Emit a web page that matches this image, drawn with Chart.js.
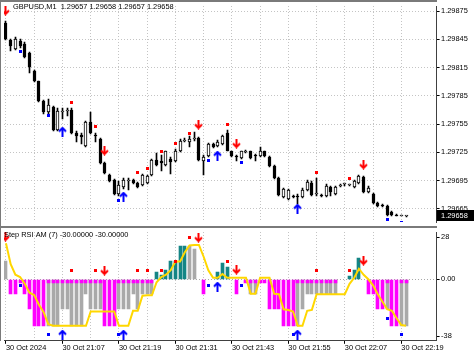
<!DOCTYPE html>
<html>
<head>
<meta charset="utf-8">
<title>GBPUSD,M1 - Step RSI AM</title>
<script src="https://cdn.jsdelivr.net/npm/chart.js@4.4.1/dist/chart.umd.min.js"></script>
<style>
  body { margin: 0; background: #fff; }
  #wrap { position: relative; width: 474px; height: 355px; overflow: hidden; background: #fff; }
  canvas { position: absolute; left: 0; }
  .edge { position: absolute; background: #7a7a7a; }
</style>
</head>
<body>
<div id="wrap">
  <canvas id="price-graphic" width="474" height="224" style="top:2px;width:474px;height:224px"></canvas>
  <canvas id="rsi-graphic" width="474" height="127" style="top:228px;width:474px;height:127px"></canvas>
  <div class="edge" style="left:0;top:0;width:437px;height:2px"></div>
  <div class="edge" style="left:0;top:226px;width:437px;height:2px"></div>
  <div class="edge" style="left:0;top:0;width:1px;height:341px"></div>
</div>
<script>
// minute bars, 30 Oct 2024
const times = ('20:55 20:56 20:57 20:58 20:59 21:00 21:01 21:02 21:03 21:04 21:05 21:06 ' +
  '21:07 21:08 21:09 21:10 21:11 21:12 21:13 21:14 21:15 21:16 21:17 21:18 ' +
  '21:19 21:20 21:21 21:22 21:23 21:24 21:25 21:26 21:27 21:28 21:29 21:30 ' +
  '21:31 21:32 21:33 21:34 21:35 21:36 21:37 21:38 21:39 21:40 21:41 21:42 ' +
  '21:43 21:44 21:45 21:46 21:47 21:48 21:49 21:50 21:51 21:52 21:53 21:54 ' +
  '21:55 21:56 21:57 21:58 21:59 22:00 22:01 22:02 22:03 22:04 22:05 22:06 ' +
  '22:07 22:08 22:09 22:10 22:11 22:12 22:13 22:14 22:15 22:16 22:17 22:18 22:19 22:20').split(' ');

const opens = [
  1.29862, 1.29844, 1.29835, 1.29843, 1.29840, 1.29831, 1.29811, 1.29801, 1.29780, 1.29768,
  1.29773, 1.29749, 1.29768, 1.29769, 1.29770, 1.29746, 1.29744, 1.29732, 1.29757, 1.29744,
  1.29739, 1.29714, 1.29701, 1.29696, 1.29681, 1.29688, 1.29695, 1.29696, 1.29693, 1.29690,
  1.29693, 1.29701, 1.29717, 1.29716, 1.29712, 1.29718, 1.29716, 1.29726, 1.29737, 1.29736,
  1.29739, 1.29740, 1.29716, 1.29721, 1.29734, 1.29732, 1.29734, 1.29746, 1.29726, 1.29721,
  1.29719, 1.29725, 1.29726, 1.29722, 1.29721, 1.29726, 1.29720, 1.29711, 1.29698, 1.29678,
  1.29676, 1.29679, 1.29679, 1.29678, 1.29685, 1.29693, 1.29681, 1.29680, 1.29679, 1.29688,
  1.29681, 1.29689, 1.29691, 1.29690, 1.29688, 1.29693, 1.29699, 1.29683, 1.29681, 1.29671,
  1.29669, 1.29668, 1.29662, 1.29659, 1.29658, 1.29657
];
const highs = [
  1.29864, 1.29845, 1.29847, 1.29845, 1.29842, 1.29832, 1.29812, 1.29801, 1.29781, 1.29782,
  1.29774, 1.29772, 1.29772, 1.29772, 1.29772, 1.29748, 1.29746, 1.29758, 1.29768, 1.29746,
  1.29740, 1.29715, 1.29702, 1.29697, 1.29695, 1.29698, 1.29698, 1.29697, 1.29694, 1.29702,
  1.29701, 1.29718, 1.29724, 1.29722, 1.29727, 1.29720, 1.29729, 1.29739, 1.29740, 1.29742,
  1.29747, 1.29741, 1.29722, 1.29735, 1.29735, 1.29738, 1.29744, 1.29749, 1.29727, 1.29722,
  1.29727, 1.29728, 1.29727, 1.29723, 1.29731, 1.29727, 1.29721, 1.29712, 1.29699, 1.29687,
  1.29686, 1.29680, 1.29681, 1.29687, 1.29696, 1.29695, 1.29698, 1.29681, 1.29691, 1.29689,
  1.29689, 1.29692, 1.29693, 1.29692, 1.29696, 1.29701, 1.29700, 1.29689, 1.29682, 1.29672,
  1.29670, 1.29669, 1.29663, 1.29660, 1.29659, 1.29658
];
const lows = [
  1.29844, 1.29833, 1.29834, 1.29836, 1.29825, 1.29809, 1.29800, 1.29779, 1.29766, 1.29765,
  1.29748, 1.29748, 1.29761, 1.29764, 1.29745, 1.29736, 1.29734, 1.29731, 1.29745, 1.29736,
  1.29713, 1.29702, 1.29694, 1.29680, 1.29679, 1.29686, 1.29685, 1.29692, 1.29687, 1.29689,
  1.29692, 1.29700, 1.29711, 1.29705, 1.29711, 1.29702, 1.29715, 1.29725, 1.29736, 1.29731,
  1.29737, 1.29716, 1.29701, 1.29720, 1.29730, 1.29731, 1.29733, 1.29726, 1.29720, 1.29716,
  1.29718, 1.29724, 1.29718, 1.29716, 1.29720, 1.29720, 1.29710, 1.29697, 1.29679, 1.29677,
  1.29675, 1.29677, 1.29670, 1.29677, 1.29684, 1.29679, 1.29679, 1.29678, 1.29678, 1.29679,
  1.29680, 1.29688, 1.29689, 1.29689, 1.29687, 1.29692, 1.29682, 1.29682, 1.29670, 1.29667,
  1.29667, 1.29658, 1.29658, 1.29658, 1.29657, 1.29657
];
const closes = [
  1.29845, 1.29838, 1.29845, 1.29838, 1.29826, 1.29816, 1.29801, 1.29780, 1.29768, 1.29775,
  1.29749, 1.29769, 1.29769, 1.29770, 1.29746, 1.29742, 1.29741, 1.29757, 1.29746, 1.29742,
  1.29714, 1.29703, 1.29695, 1.29681, 1.29690, 1.29696, 1.29696, 1.29693, 1.29688, 1.29701,
  1.29700, 1.29717, 1.29712, 1.29714, 1.29726, 1.29715, 1.29727, 1.29737, 1.29738, 1.29739,
  1.29740, 1.29717, 1.29720, 1.29734, 1.29731, 1.29736, 1.29742, 1.29727, 1.29721, 1.29720,
  1.29726, 1.29727, 1.29719, 1.29721, 1.29726, 1.29721, 1.29711, 1.29698, 1.29680, 1.29686,
  1.29685, 1.29678, 1.29678, 1.29685, 1.29694, 1.29680, 1.29682, 1.29679, 1.29689, 1.29683,
  1.29688, 1.29690, 1.29691, 1.29691, 1.29695, 1.29700, 1.29683, 1.29687, 1.29671, 1.29668,
  1.29668, 1.29659, 1.29659, 1.29658, 1.29658, 1.29658
];

// signal marks on the price window (bar index + price)
const priceRedSquareBars = [14, 19, 28, 30, 33, 36, 39, 47, 66, 73];
const priceRedSquares = [1.29778, 1.29752, 1.29704, 1.29708, 1.29726, 1.29735, 1.29745, 1.29755, 1.29704, 1.29697];
const priceRedArrowBars = [0, 21, 41, 49, 76];
const priceRedArrows = [1.29876, 1.29727, 1.29755, 1.29734, 1.29712];
const priceBlueSquareBars = [3, 9, 24, 43, 50, 81, 84];
const priceBlueSquares = [1.29832, 1.29764, 1.29674, 1.29716, 1.29714, 1.29654, 1.29651];
const priceBlueArrowBars = [12, 25, 45, 62];
const priceBlueArrows = [1.29747, 1.29678, 1.29722, 1.29665];

// Step RSI AM (7)
const rsiLine = [
  24, 10, 3, 1.5, -3, -9, -10.5, -17, -22, -30,
  -31, -31, -31, -31, -31, -31, -31, -31, -21.5, -21.5,
  -21.5, -21.5, -21.5, -21.5, -31, -31, -31, -21, -21, -11,
  -10.7, -10.7, -2, 1.5, 3, 6, 11.8, 11.8, 18, 22.5,
  22.9, 22.9, 15, 6, 1, 1, 3.5, 1, 1, 1,
  1, 1, -9.7, -9.7, 1, 1, 1, -9.7, -10, -20,
  -20.5, -21.5, -31, -31, -21, -20.4, -10, -10, -10, -10,
  -10, -10, -10, -3, 1, 7, 3, 0, -4, -10,
  -15, -20, -21, -26, -30.5, -31
];
const grayHist = [
  12, null, null, null, null, null, null, null, null, -31,
  -31, -31, -20, -20, -31, -31, -31, -10, -20, -20,
  -20, null, null, null, -20, -20, -20, -10, -20, -10,
  -10, -10, null, null, null, null, null, null, null, 22,
  20, null, null, null, null, null, null, null, null, null,
  null, null, -10, -10, null, null, null, null, null, null,
  null, null, -31, -20, -10, -10, -10, -10, -10, -10,
  -10, null, null, null, null, null, null, null, null, null,
  null, -20, null, null, -31, -31
];
const magentaHist = [
  null, -10, -10, -2.5, -10, -20, -31, -31, -31, -2.5,
  -2.5, -2.5, -2.5, -2.5, -2.5, -2.5, -2.5, -2.5, -2.5, -2.5,
  -2.5, -31, -31, -31, -2.5, -2.5, -2.5, -2.5, -2.5, -2.5,
  -2.5, -2.5, null, null, null, null, null, null, null, null,
  null, null, -10, null, null, null, null, null, null, -10,
  null, -2.5, -2.5, -2.5, -2.5, -2.5, -20, -20, -20, -31,
  -31, -31, -2.5, -2.5, -2.5, -2.5, -2.5, -2.5, -2.5, -2.5,
  -2.5, null, null, null, null, null, null, -10, -10, -20,
  -20, -2.5, -31, -31, -2.5, -2.5
];
const tealHist = [
  null, null, null, null, null, null, null, null, null, null,
  null, null, null, null, null, null, null, null, null, null,
  null, null, null, null, null, null, null, null, null, null,
  null, null, 5, 3, 6, 12, 12, 22, 22, null,
  null, null, null, null, null, 5, 11, 8, null, null,
  null, null, null, null, null, null, null, null, null, null,
  null, null, null, null, null, null, null, null, null, null,
  null, null, null, 2, 6, 14, null, null, null, null,
  null, null, null, null, null, null
];
const rsiRedSquareBars = [14, 19, 28, 30, 33, 36, 39, 47, 66, 73];
const rsiRedSquares = [6, 6, 6, 6, 6, 12, 28, 12, 6, 6];
const rsiRedArrowBars = [0, 21, 41, 49, 76];
const rsiRedArrows = [28.5, 6, 28, 6.5, 12.5];
const rsiBlueSquareBars = [3, 9, 24, 43, 50, 61, 81, 84];
const rsiBlueSquares = [-4, -37, -37, -4, -4, -37, -26, -37];
const rsiBlueArrowBars = [12, 25, 45, 62];
const rsiBlueArrows = [-37, -37, -5, -37];

// axes
const priceTicks = [1.29665, 1.29695, 1.29725, 1.29755, 1.29785, 1.29815, 1.29845, 1.29875];
const rsiTicks = [28, 0, -38];
const gridTimes = ['20:55', '21:01', '21:07', '21:13', '21:19', '21:25', '21:31', '21:37',
  '21:43', '21:49', '21:55', '22:01', '22:07', '22:13', '22:19'];
const timeTicks = ['20:55', '21:07', '21:19', '21:31', '21:43', '21:55', '22:07', '22:19'];
const timeTickText = ['30 Oct 2024', '30 Oct 21:07', '30 Oct 21:19', '30 Oct 21:31',
  '30 Oct 21:43', '30 Oct 21:55', '30 Oct 22:07', '30 Oct 22:19'];

Chart.defaults.font.family = '"Liberation Sans", Arial, sans-serif';
Chart.defaults.font.size = 7.4;
Chart.defaults.color = '#000';

const FONT = '7.4px "Liberation Sans", Arial, sans-serif';
const GRID = '#c4c4c4';
const X_MIN = -0.42, X_MAX = 91.5;   // empty space on the right = chart shift

function Serie(values) {
  return values.map((v, i) => ({ x: i, y: v }));
}

function Marcas(bars, values) {
  return bars.map((b, k) => ({ x: b, y: values[k] }));
}

function Seta(color, down) {
  const c = document.createElement('canvas');
  c.width = 9; c.height = 10;
  const g = c.getContext('2d');
  g.strokeStyle = color;
  g.lineWidth = 2;
  g.beginPath();
  if (down) {
    g.moveTo(4.5, 0); g.lineTo(4.5, 8.5);
    g.moveTo(1, 5); g.lineTo(4.5, 8.5); g.lineTo(8, 5);
  } else {
    g.moveTo(4.5, 10); g.lineTo(4.5, 1.5);
    g.moveTo(1, 5); g.lineTo(4.5, 1.5); g.lineTo(8, 5);
  }
  g.stroke();
  return c;
}
const redDown = Seta('#ff0000', true);
const blueUp = Seta('#0000ff', false);

function Pontos(data, style, color) {
  return {
    type: 'line', data: data, showLine: false, order: 0,
    pointStyle: style, pointRadius: style === 'rect' ? 2.13 : 4,
    pointBackgroundColor: color, pointBorderWidth: 0
  };
}

// keep bars and marks on whole pixels like the terminal does
const snap = {
  id: 'snap',
  afterDatasetsUpdate(chart) {
    chart.data.datasets.forEach((ds, i) => {
      const meta = chart.getDatasetMeta(i);
      if (meta.type === 'bar') {
        meta.data.forEach(el => {
          el.x = Math.floor(el.x) + 0.5;
          el.y = Math.round(el.y);
          el.base = Math.round(el.base);
          if (el.base === el.y) el.base = el.y + 1;
        });
      } else if (ds.showLine === false) {
        meta.data.forEach(el => {
          el.x = Math.floor(el.x) + 0.5;
          el.y = Math.floor(el.y) + 0.5;
        });
      }
    });
  }
};

function EixoX(showLabels) {
  const idx = t => times.indexOf(t);
  return {
    type: 'linear', min: X_MIN, max: X_MAX, offset: false,
    afterBuildTicks: s => { s.ticks = gridTimes.map(t => ({ value: idx(t) })); },
    afterFit: s => { s.height = showLabels ? 14.2 : 0; s.paddingLeft = 0; s.paddingRight = 0; },
    grid: {
      offset: false, color: GRID, lineWidth: 1,
      drawTicks: showLabels, tickLength: 3,
      tickColor: c => timeTicks.map(idx).includes(c.tick.value) ? '#000' : 'rgba(0,0,0,0)'
    },
    border: { display: showLabels, color: '#404040', dash: [1, 2] },
    ticks: {
      display: showLabels, autoSkip: false, maxRotation: 0, minRotation: 0, align: 'start', padding: 0,
      callback: v => { const k = timeTicks.map(idx).indexOf(v); return k >= 0 ? timeTickText[k] : ''; }
    }
  };
}

const last = closes.length - 1;

const priceText = {
  id: 'priceText',
  afterDraw(chart) {
    const { ctx, chartArea, scales } = chart;
    const py = Math.round(scales.y.getPixelForValue(closes[last]));
    ctx.save();
    ctx.font = FONT;
    ctx.textBaseline = 'middle';
    ctx.fillStyle = '#000';
    ctx.fillRect(chartArea.right, py - 6, chart.width - chartArea.right, 11);
    ctx.fillStyle = '#fff';
    ctx.fillText(closes[last].toFixed(5), chartArea.right + 4.5, py);
    ctx.fillStyle = '#000';
    ctx.fillText('GBPUSD,M1  ' + [opens[last], highs[last], lows[last], closes[last]]
      .map(v => v.toFixed(5)).join(' '), 13, 5);
    ctx.restore();
  }
};

const rsiText = {
  id: 'rsiText',
  afterDraw(chart) {
    const ctx = chart.ctx;
    ctx.save();
    ctx.font = FONT;
    ctx.textBaseline = 'middle';
    ctx.fillStyle = '#000';
    ctx.fillText('Step RSI AM (7) -30.00000 -30.00000', 4, 6.5);
    ctx.restore();
  }
};

//Janela de preço
const priceConfig = {
  type: 'bar',
  data: {
    datasets: [
      Pontos(Marcas(priceRedSquareBars, priceRedSquares), 'rect', '#ff0000'),
      Pontos(Marcas(priceBlueSquareBars, priceBlueSquares), 'rect', '#0000ff'),
      Pontos(Marcas(priceRedArrowBars, priceRedArrows), redDown, '#ff0000'),
      Pontos(Marcas(priceBlueArrowBars, priceBlueArrows), blueUp, '#0000ff'),
      {
        type: 'bar', order: 1, grouped: false, barThickness: 3, minBarLength: 1,
        data: opens.map((o, i) => ({ x: i, y: [o, closes[i]] })),
        backgroundColor: c => closes[c.dataIndex] >= opens[c.dataIndex] ? '#ffffff' : '#000000',
        borderColor: '#000', borderWidth: 1, borderSkipped: false
      },
      {
        type: 'bar', order: 2, grouped: false, barThickness: 1,
        data: lows.map((l, i) => ({ x: i, y: [l, highs[i]] })),
        backgroundColor: '#000', borderWidth: 0
      }
    ]
  },
  options: {
    responsive: false, maintainAspectRatio: false, animation: false, events: [],
    layout: { padding: 0 },
    plugins: { legend: { display: false }, tooltip: { enabled: false } },
    scales: {
      x: EixoX(false),
      y: {
        type: 'linear', position: 'right', min: 1.2965115, max: 1.2988042,
        afterBuildTicks: s => { s.ticks = priceTicks.map(v => ({ value: v })); },
        afterFit: s => { s.width = 37.4; s.paddingTop = 0; s.paddingBottom = 0; },
        grid: { color: GRID, tickLength: 3, tickColor: '#000' },
        border: { color: '#404040', dash: [1, 2] },
        ticks: { autoSkip: false, padding: 1.5, callback: v => v.toFixed(5) }
      }
    }
  },
  plugins: [snap, priceText]
};

//Janela do indicador
const rsiConfig = {
  type: 'bar',
  data: {
    datasets: [
      Pontos(Marcas(rsiRedSquareBars, rsiRedSquares), 'rect', '#ff0000'),
      Pontos(Marcas(rsiBlueSquareBars, rsiBlueSquares), 'rect', '#0000ff'),
      Pontos(Marcas(rsiRedArrowBars, rsiRedArrows), redDown, '#ff0000'),
      Pontos(Marcas(rsiBlueArrowBars, rsiBlueArrows), blueUp, '#0000ff'),
      {
        type: 'line', order: 1, data: Serie(rsiLine),
        borderColor: '#ffd700', borderWidth: 2, pointRadius: 0, tension: 0
      },
      { type: 'bar', order: 3, grouped: false, barThickness: 3, data: Serie(tealHist), backgroundColor: '#148585' },
      { type: 'bar', order: 4, grouped: false, barThickness: 3, data: Serie(magentaHist), backgroundColor: '#ff00ff' },
      { type: 'bar', order: 5, grouped: false, barThickness: 3, data: Serie(grayHist), backgroundColor: '#a9a9a9' }
    ]
  },
  options: {
    responsive: false, maintainAspectRatio: false, animation: false, events: [],
    layout: { padding: 0 },
    plugins: { legend: { display: false }, tooltip: { enabled: false } },
    scales: {
      x: EixoX(true),
      y: {
        type: 'linear', position: 'right', min: -41.0, max: 31.49,
        afterBuildTicks: s => { s.ticks = rsiTicks.map(v => ({ value: v })); },
        afterFit: s => { s.width = 37.4; s.paddingTop = 0; s.paddingBottom = 0; },
        grid: { color: c => c.tick.value === 0 ? '#a8a8a8' : 'rgba(0,0,0,0)', tickLength: 3, tickColor: '#000' },
        border: { color: '#404040', dash: [1, 2] },
        ticks: { autoSkip: false, padding: 1.5, callback: v => v === 0 ? '0.00' : String(v) }
      }
    }
  },
  plugins: [snap, rsiText]
};

window.addEventListener('DOMContentLoaded', () => {
  new Chart(document.getElementById('price-graphic').getContext('2d'), priceConfig);
  new Chart(document.getElementById('rsi-graphic').getContext('2d'), rsiConfig);
});
</script>
</body>
</html>
